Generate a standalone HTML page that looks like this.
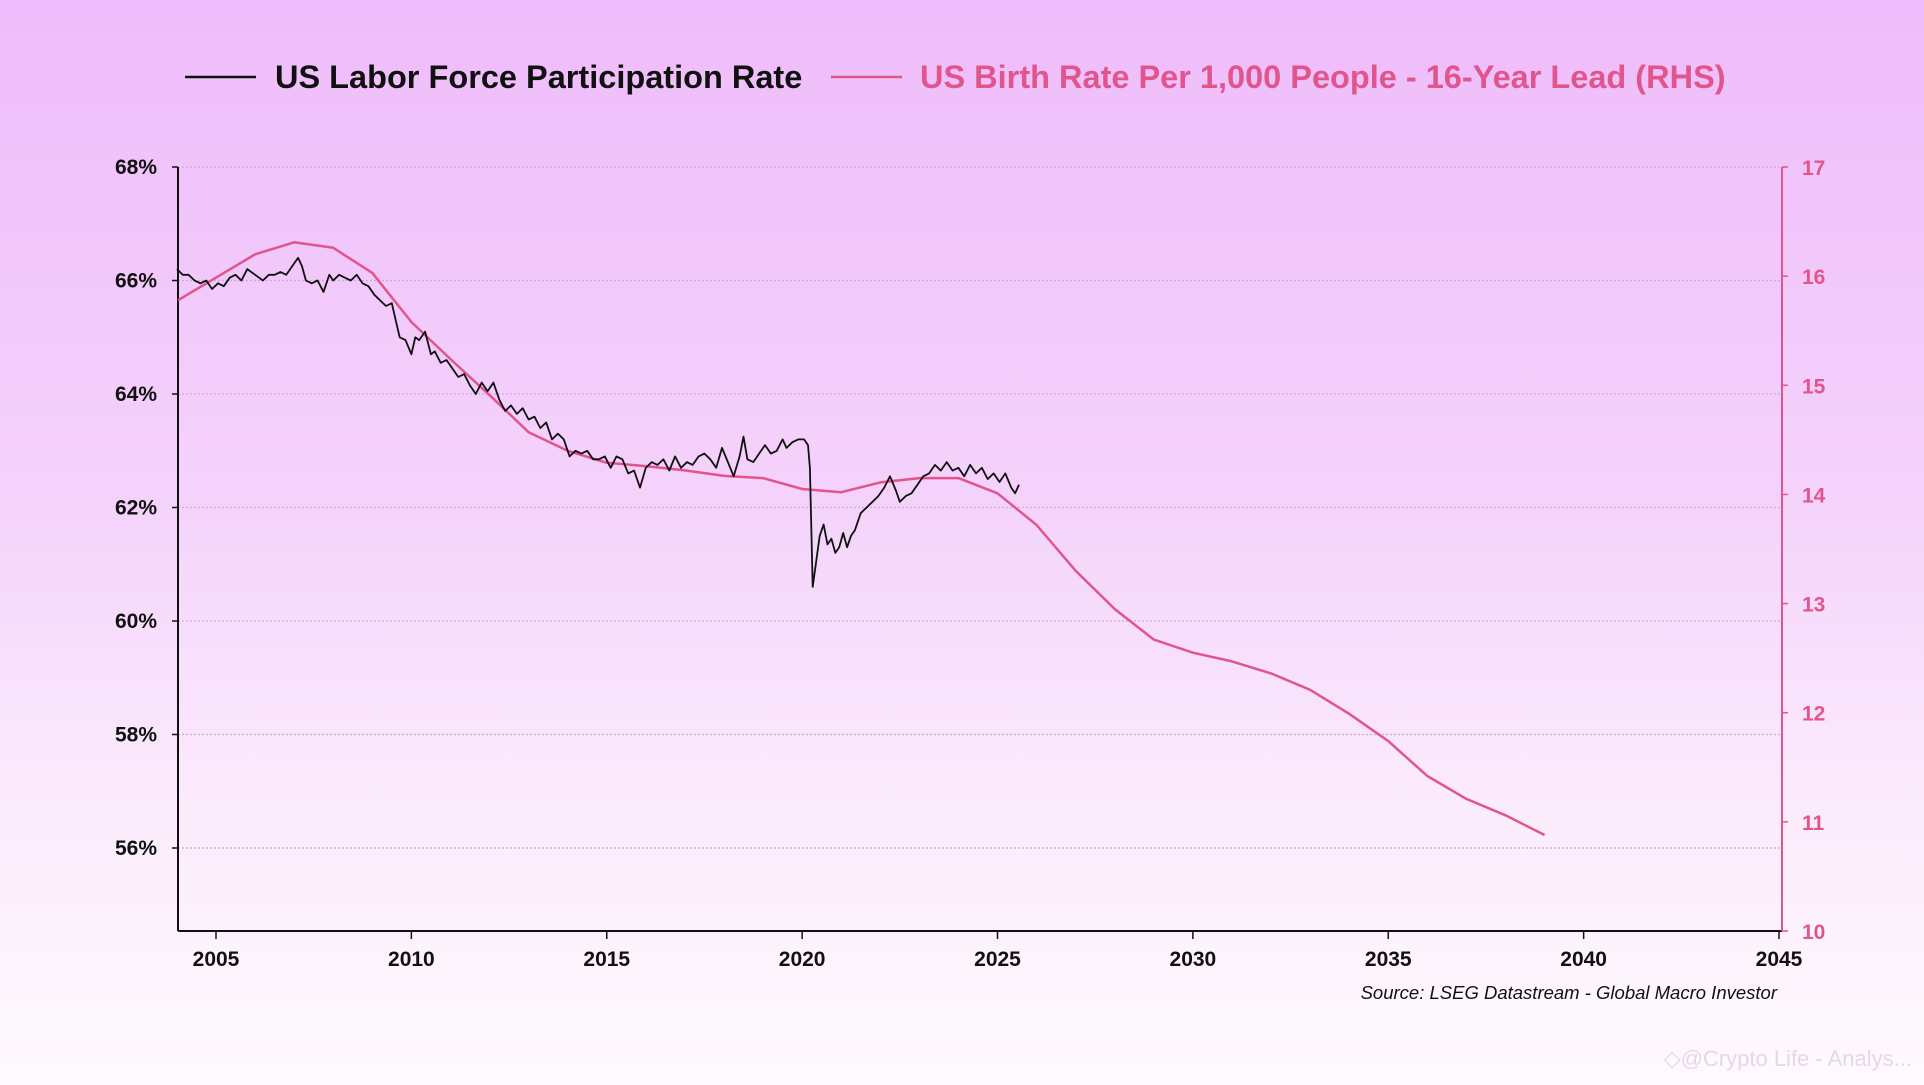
<!DOCTYPE html>
<html><head><meta charset="utf-8"><style>
html,body{margin:0;padding:0;}
body{width:1924px;height:1085px;overflow:hidden;background:linear-gradient(180deg,#efbcfb 0%,#f4d2fb 45%,#fbecfc 75%,#fefafe 100%);font-family:"Liberation Sans",sans-serif;}
svg{position:absolute;left:0;top:0;}
</style></head><body>
<svg id="chart" width="1924" height="1085" xmlns="http://www.w3.org/2000/svg">
<g id="legend">
<line x1="185" y1="77" x2="256" y2="77" stroke="#111" stroke-width="2.5"/>
<text x="275" y="88" font-size="32.5" font-weight="bold" fill="#111">US Labor Force Participation Rate</text>
<line x1="831" y1="77" x2="902" y2="77" stroke="#e0558c" stroke-width="2.5"/>
<text x="920" y="88" font-size="32.5" font-weight="bold" fill="#e0558c">US Birth Rate Per 1,000 People - 16-Year Lead (RHS)</text>
</g>
<g id="grid"></g>
<g id="axes"></g>
<g id="series"></g>
<text x="1777" y="999" font-size="18.5" font-style="italic" text-anchor="end" fill="#111">Source: LSEG Datastream - Global Macro Investor</text>
<text x="1912" y="1066" font-size="22" text-anchor="end" fill="#e6d6ea">◇@Crypto Life - Analys...</text>
</svg>
<script>
const leftTicks=[56,58,60,62,64,66,68];
const rightTicks=[10,11,12,13,14,15,16,17];
const xTicks=[2005,2010,2015,2020,2025,2030,2035,2040,2045];
const birthYears=[2004.03,2006,2007,2008,2009,2010,2011,2012,2013,2014,2015,2016,2017,2018,2019,2020,2021,2022,2023,2024,2025,2026,2027,2028,2029,2030,2031,2032,2033,2034,2035,2036,2037,2038,2039];
const birthValues=[15.78,16.2,16.31,16.26,16.03,15.58,15.24,14.91,14.57,14.4,14.29,14.26,14.22,14.17,14.15,14.05,14.02,14.11,14.15,14.15,14.01,13.72,13.3,12.95,12.67,12.55,12.47,12.36,12.21,11.99,11.74,11.42,11.21,11.06,10.88];
const lfprYears=[2004.0,2004.15,2004.3,2004.45,2004.6,2004.75,2004.9,2005.05,2005.2,2005.35,2005.5,2005.65,2005.8,2006.0,2006.2,2006.35,2006.5,2006.65,2006.8,2007.0,2007.1,2007.2,2007.3,2007.45,2007.6,2007.75,2007.9,2008.0,2008.15,2008.3,2008.45,2008.6,2008.75,2008.9,2009.05,2009.2,2009.35,2009.5,2009.6,2009.7,2009.85,2010.0,2010.1,2010.2,2010.35,2010.5,2010.6,2010.75,2010.9,2011.05,2011.2,2011.35,2011.5,2011.65,2011.8,2011.95,2012.1,2012.25,2012.4,2012.55,2012.7,2012.85,2013.0,2013.15,2013.3,2013.45,2013.6,2013.75,2013.9,2014.05,2014.2,2014.35,2014.5,2014.65,2014.8,2014.95,2015.1,2015.25,2015.4,2015.55,2015.7,2015.85,2016.0,2016.15,2016.3,2016.45,2016.6,2016.75,2016.9,2017.05,2017.2,2017.35,2017.5,2017.65,2017.8,2017.95,2018.1,2018.25,2018.4,2018.5,2018.6,2018.75,2018.9,2019.05,2019.2,2019.35,2019.5,2019.6,2019.75,2019.9,2020.05,2020.15,2020.2,2020.27,2020.35,2020.45,2020.55,2020.65,2020.75,2020.85,2020.95,2021.05,2021.15,2021.25,2021.35,2021.5,2021.65,2021.8,2021.95,2022.1,2022.25,2022.4,2022.5,2022.65,2022.8,2022.95,2023.1,2023.25,2023.4,2023.55,2023.7,2023.85,2024.0,2024.15,2024.3,2024.45,2024.6,2024.75,2024.9,2025.05,2025.2,2025.35,2025.45,2025.55,2025.7];
const lfprValues=[66.2,66.1,66.1,66.0,65.95,66.0,65.85,65.95,65.9,66.05,66.1,66.0,66.2,66.1,66.0,66.1,66.1,66.15,66.1,66.3,66.4,66.25,66.0,65.95,66.0,65.8,66.1,66.0,66.1,66.05,66.0,66.1,65.95,65.9,65.75,65.65,65.55,65.6,65.3,65.0,64.95,64.7,65.0,64.95,65.1,64.7,64.75,64.55,64.6,64.45,64.3,64.35,64.15,64.0,64.2,64.05,64.2,63.9,63.7,63.8,63.65,63.75,63.55,63.6,63.4,63.5,63.2,63.3,63.2,62.9,63.0,62.95,63.0,62.85,62.85,62.9,62.7,62.9,62.85,62.6,62.65,62.35,62.7,62.8,62.75,62.85,62.65,62.9,62.7,62.8,62.75,62.9,62.95,62.85,62.7,63.05,62.8,62.55,62.9,63.25,62.85,62.8,62.95,63.1,62.95,63.0,63.2,63.05,63.15,63.2,63.2,63.1,62.7,60.6,61.0,61.5,61.7,61.35,61.45,61.2,61.3,61.55,61.3,61.5,61.6,61.9,62.0,62.1,62.2,62.35,62.55,62.3,62.1,62.2,62.25,62.4,62.55,62.6,62.75,62.65,62.8,62.65,62.7,62.55,62.75,62.6,62.7,62.5,62.6,62.45,62.6,62.35,62.25,62.4];

const NS="http://www.w3.org/2000/svg";
const X0=178,X1=1782,YT=167,YB=931;
const xScale=y=>216+(y-2005)*(1563/40);
const yLeft=v=>167+(68-v)*56.75;
const yRight=v=>167+(17-v)*(764/7);
function mk(tag,attrs,parent,txt){const e=document.createElementNS(NS,tag);for(const k in attrs)e.setAttribute(k,attrs[k]);if(txt!==undefined)e.textContent=txt;parent.appendChild(e);return e;}
const grid=document.getElementById('grid'),axes=document.getElementById('axes'),series=document.getElementById('series');
leftTicks.forEach(t=>{const y=yLeft(t);
 const g=mk('line',{x1:X0,x2:X1,y1:y,y2:y,stroke:'#cfa9d6','stroke-width':1.2,'stroke-dasharray':'2,2'},grid);
 
 
 const tk=mk('line',{x1:X0-6,x2:X0,y1:y,y2:y,stroke:'#111','stroke-width':1.5},axes);
 
 
 const l=mk('text',{x:157,y:y+7,'font-size':21,'font-weight':'bold','text-anchor':'end',fill:'#111'},axes,t+'%');
 
 
});
rightTicks.forEach(t=>{const y=yRight(t);
 const tk=mk('line',{x1:X1,x2:X1+6,y1:y,y2:y,stroke:'#e0558c','stroke-width':1.5},axes);
 
 
 const l=mk('text',{x:X1+20,y:y+8,'font-size':21,'font-weight':'bold',fill:'#e0558c'},axes,String(t));
 
 
});
xTicks.forEach(t=>{const x=xScale(t);
 const tk=mk('line',{x1:x,x2:x,y1:YB,y2:YB+8,stroke:'#111','stroke-width':1.5},axes);
 
 
 const l=mk('text',{x:x,y:YB+35,'font-size':21,'font-weight':'bold','text-anchor':'middle',fill:'#111'},axes,String(t));
 
 
});
const la=mk('line',{x1:X0,x2:X0,y1:YT,y2:YB,stroke:'#111','stroke-width':2},axes);


const ba=mk('line',{x1:X0,x2:X1,y1:YB,y2:YB,stroke:'#111','stroke-width':2},axes);


const ra=mk('line',{x1:X1,x2:X1,y1:YT,y2:YB,stroke:'#e0558c','stroke-width':2},axes);


const bp=mk('path',{d:birthYears.map((yr,i)=>(i?'L':'M')+xScale(yr).toFixed(1)+','+yRight(birthValues[i]).toFixed(1)).join(''),fill:'none',stroke:'#e0558c','stroke-width':2.5,'stroke-linejoin':'round'},series);


const lp=mk('path',{d:lfprYears.map((yr,i)=>(i?'L':'M')+xScale(yr).toFixed(1)+','+yLeft(lfprValues[i]).toFixed(1)).join(''),fill:'none',stroke:'#111','stroke-width':1.8,'stroke-linejoin':'round'},series);


</script>
</body></html>
